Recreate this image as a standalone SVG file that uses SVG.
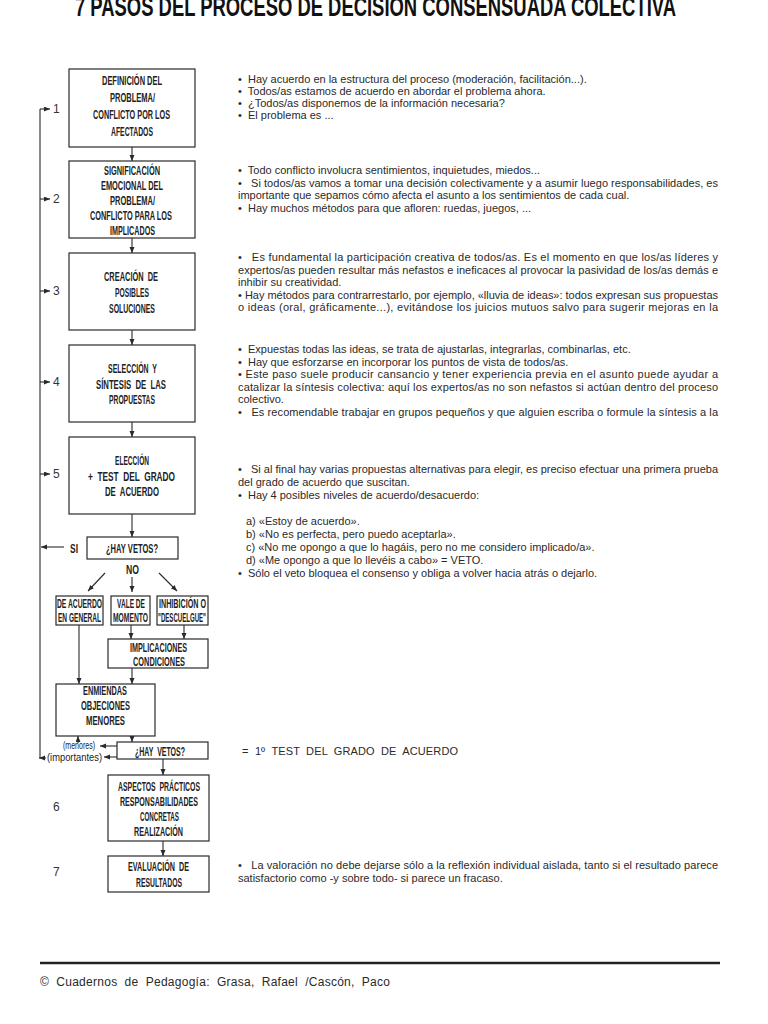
<svg xmlns="http://www.w3.org/2000/svg" width="768" height="1024" viewBox="0 0 768 1024">
<style>
.bx{fill:#fff;stroke:#2a2a2a;stroke-width:1.2}
.lb{font-family:"Liberation Sans Narrow","Liberation Sans",sans-serif;font-weight:700;font-size:13px;fill:#222;white-space:pre}
.sm{font-family:"Liberation Sans Narrow","Liberation Sans",sans-serif;font-size:11px;fill:#222}
.tx{font-family:"Liberation Sans",Arial,sans-serif;font-size:11px;fill:#2a2a2a;white-space:pre}
.num{font-family:"Liberation Sans",Arial,sans-serif;font-size:12px;fill:#333}
.ln{stroke:#2a2a2a;stroke-width:1.1;fill:none}
.ar{stroke:#2a2a2a;stroke-width:1.1;fill:none;marker-end:url(#ah)}
</style>
<defs>
<marker id="ah" markerUnits="userSpaceOnUse" markerWidth="7" markerHeight="6" refX="6" refY="2.5" orient="auto">
<path d="M0,0 L6,2.5 L0,5 z" fill="#2a2a2a"/>
</marker>
</defs>
<rect width="768" height="1024" fill="#fff"/>

<text x="75" y="16" textLength="601" lengthAdjust="spacingAndGlyphs" style="font-family:'Liberation Sans Narrow','Liberation Sans',sans-serif;font-weight:700;font-size:28px;fill:#111">7 PASOS DEL PROCESO DE DECISIÓN CONSENSUADA COLECTIVA</text>

<g id="connectors">
<line class="ar" x1="132" y1="147" x2="132" y2="161"/>
<line class="ar" x1="132" y1="238" x2="132" y2="253"/>
<line class="ar" x1="132" y1="330" x2="132" y2="345"/>
<line class="ar" x1="132" y1="422" x2="132" y2="437"/>
<line class="ar" x1="132" y1="514" x2="132" y2="537"/>
<line class="ar" x1="64" y1="547" x2="41" y2="547"/>
<line class="ar" x1="105" y1="573" x2="88" y2="591"/>
<line class="ar" x1="132" y1="577" x2="132" y2="592"/>
<line class="ar" x1="159" y1="573" x2="177" y2="591"/>
<line class="ar" x1="131" y1="625" x2="131" y2="639"/>
<line class="ar" x1="184" y1="625" x2="184" y2="639"/>
<line class="ar" x1="79" y1="625" x2="79" y2="684"/>
<line class="ar" x1="132" y1="668" x2="132" y2="684"/>
<line class="ar" x1="132" y1="736" x2="132" y2="742"/>
<line class="ar" x1="78" y1="743" x2="78" y2="736"/>
<line class="ar" x1="117" y1="746" x2="100" y2="746"/>
<line class="ar" x1="117" y1="757" x2="104" y2="757"/>
<line class="ar" x1="46" y1="758" x2="39" y2="758"/>
<line class="ln" x1="40" y1="758" x2="40" y2="109"/>
<line class="ar" x1="40" y1="109" x2="50" y2="109"/>
<line class="ar" x1="40" y1="199" x2="50" y2="199"/>
<line class="ar" x1="40" y1="291" x2="50" y2="291"/>
<line class="ar" x1="40" y1="382" x2="50" y2="382"/>
<line class="ar" x1="40" y1="474" x2="50" y2="474"/>
<line class="ar" x1="163" y1="759" x2="163" y2="775"/>
<line class="ar" x1="163" y1="841" x2="163" y2="856"/>
</g>

<g id="step-numbers">
<text class="num" x="53" y="113">1</text>
<text class="num" x="53" y="203">2</text>
<text class="num" x="53" y="295">3</text>
<text class="num" x="53" y="386">4</text>
<text class="num" x="53" y="478">5</text>
<text class="num" x="53" y="811">6</text>
<text class="num" x="53" y="876">7</text>
</g>

<g id="n1">
<rect class="bx" x="69" y="69" width="126" height="78"/>
<text class="lb" x="102" y="85" textLength="60" lengthAdjust="spacingAndGlyphs">DEFINICIÓN DEL</text>
<text class="lb" x="110" y="102" textLength="45" lengthAdjust="spacingAndGlyphs">PROBLEMA/</text>
<text class="lb" x="93" y="119" textLength="77" lengthAdjust="spacingAndGlyphs">CONFLICTO POR LOS</text>
<text class="lb" x="111" y="136" textLength="42" lengthAdjust="spacingAndGlyphs">AFECTADOS</text>
</g>
<g id="n2">
<rect class="bx" x="69" y="161" width="126" height="77"/>
<text class="lb" x="104" y="175" textLength="56" lengthAdjust="spacingAndGlyphs">SIGNIFICACIÓN</text>
<text class="lb" x="101" y="190" textLength="62" lengthAdjust="spacingAndGlyphs">EMOCIONAL DEL</text>
<text class="lb" x="110" y="205" textLength="45" lengthAdjust="spacingAndGlyphs">PROBLEMA/</text>
<text class="lb" x="90" y="220" textLength="82" lengthAdjust="spacingAndGlyphs">CONFLICTO PARA LOS</text>
<text class="lb" x="110" y="235" textLength="45" lengthAdjust="spacingAndGlyphs">IMPLICADOS</text>
</g>
<g id="n3">
<rect class="bx" x="69" y="253" width="126" height="77"/>
<text class="lb" x="104" y="281" textLength="54" lengthAdjust="spacingAndGlyphs">CREACIÓN  DE</text>
<text class="lb" x="115" y="297" textLength="34" lengthAdjust="spacingAndGlyphs">POSIBLES</text>
<text class="lb" x="109" y="313" textLength="46" lengthAdjust="spacingAndGlyphs">SOLUCIONES</text>
</g>
<g id="n4">
<rect class="bx" x="69" y="345" width="126" height="77"/>
<text class="lb" x="108" y="373" textLength="49" lengthAdjust="spacingAndGlyphs">SELECCIÓN  Y</text>
<text class="lb" x="96" y="389" textLength="70" lengthAdjust="spacingAndGlyphs">SÍNTESIS  DE  LAS</text>
<text class="lb" x="109" y="404" textLength="46" lengthAdjust="spacingAndGlyphs">PROPUESTAS</text>
</g>
<g id="n5">
<rect class="bx" x="69" y="437" width="126" height="77"/>
<text class="lb" x="115" y="465" textLength="34" lengthAdjust="spacingAndGlyphs">ELECCIÓN</text>
<text class="lb" x="88" y="481" textLength="87" lengthAdjust="spacingAndGlyphs">+  TEST  DEL  GRADO</text>
<text class="lb" x="105" y="496" textLength="54" lengthAdjust="spacingAndGlyphs">DE  ACUERDO</text>
</g>
<g id="veto1">
<rect class="bx" x="87" y="537" width="91" height="22"/>
<text class="lb" x="106" y="553" textLength="52" lengthAdjust="spacingAndGlyphs">¿HAY VETOS?</text>
</g>
<g id="label-si"><text class="lb" x="70" y="553" textLength="8" lengthAdjust="spacingAndGlyphs">SI</text></g>
<g id="label-no"><text class="lb" x="126" y="574" textLength="13" lengthAdjust="spacingAndGlyphs">NO</text></g>
<g id="n-acuerdo">
<rect class="bx" x="56" y="596" width="47" height="29"/>
<text class="lb" x="57" y="608" textLength="45" lengthAdjust="spacingAndGlyphs">DE ACUERDO</text>
<text class="lb" x="58" y="622" textLength="43" lengthAdjust="spacingAndGlyphs">EN GENERAL</text>
</g>
<g id="n-vale">
<rect class="bx" x="111" y="596" width="39" height="29"/>
<text class="lb" x="117" y="608" textLength="28" lengthAdjust="spacingAndGlyphs">VALE DE</text>
<text class="lb" x="113" y="622" textLength="35" lengthAdjust="spacingAndGlyphs">MOMENTO</text>
</g>
<g id="n-inhibicion">
<rect class="bx" x="157" y="596" width="51" height="29"/>
<text class="lb" x="159" y="608" textLength="47" lengthAdjust="spacingAndGlyphs">INHIBICIÓN O</text>
<text class="lb" x="158" y="622" textLength="48" lengthAdjust="spacingAndGlyphs">"DESCUELGUE"</text>
</g>
<g id="n-implicaciones">
<rect class="bx" x="108" y="639" width="100" height="29"/>
<text class="lb" x="130" y="652" textLength="57" lengthAdjust="spacingAndGlyphs">IMPLICACIONES</text>
<text class="lb" x="133" y="666" textLength="52" lengthAdjust="spacingAndGlyphs">CONDICIONES</text>
</g>
<g id="n-enmiendas">
<rect class="bx" x="56" y="684" width="99" height="52"/>
<text class="lb" x="83" y="695" textLength="44" lengthAdjust="spacingAndGlyphs">ENMIENDAS</text>
<text class="lb" x="81" y="710" textLength="49" lengthAdjust="spacingAndGlyphs">OBJECIONES</text>
<text class="lb" x="86" y="725" textLength="39" lengthAdjust="spacingAndGlyphs">MENORES</text>
</g>
<g id="veto2">
<rect class="bx" x="117" y="742" width="91" height="17"/>
<text class="lb" x="135" y="755.5" textLength="50" lengthAdjust="spacingAndGlyphs">¿HAY  VETOS?</text>
</g>
<g id="label-menores"><text class="sm" x="63" y="749" textLength="32" lengthAdjust="spacingAndGlyphs">(menores)</text></g>
<g id="label-importantes"><text class="sm" x="47" y="761" textLength="55" lengthAdjust="spacingAndGlyphs">(importantes)</text></g>
<g id="n6">
<rect class="bx" x="108" y="775" width="101" height="66"/>
<text class="lb" x="118" y="791" textLength="82" lengthAdjust="spacingAndGlyphs">ASPECTOS  PRÁCTICOS</text>
<text class="lb" x="120" y="806" textLength="78" lengthAdjust="spacingAndGlyphs">RESPONSABILIDADES</text>
<text class="lb" x="140" y="821" textLength="39" lengthAdjust="spacingAndGlyphs">CONCRETAS</text>
<text class="lb" x="134" y="836" textLength="49" lengthAdjust="spacingAndGlyphs">REALIZACIÓN</text>
</g>
<g id="n7">
<rect class="bx" x="108" y="856" width="101" height="36"/>
<text class="lb" x="128" y="871" textLength="61" lengthAdjust="spacingAndGlyphs">EVALUACIÓN  DE</text>
<text class="lb" x="136" y="887" textLength="46" lengthAdjust="spacingAndGlyphs">RESULTADOS</text>
</g>

<g id="notes-1">
<text class="tx" x="238" y="83">•  Hay acuerdo en la estructura del proceso (moderación, facilitación...).</text>
<text class="tx" x="238" y="95">•  Todos/as estamos de acuerdo en abordar el problema ahora.</text>
<text class="tx" x="238" y="107">•  ¿Todos/as disponemos de la información necesaria?</text>
<text class="tx" x="238" y="119">•  El problema es ...</text>
</g>
<g id="notes-2">
<text class="tx" x="238" y="174">•  Todo conflicto involucra sentimientos, inquietudes, miedos...</text>
<text class="tx" x="238" y="186.5" textLength="480" lengthAdjust="spacing">•   Si todos/as vamos a tomar una decisión colectivamente y a asumir luego responsabilidades, es</text>
<text class="tx" x="238" y="199">importante que sepamos cómo afecta el asunto a los sentimientos de cada cual.</text>
<text class="tx" x="238" y="211.5">•  Hay muchos métodos para que afloren: ruedas, juegos, ...</text>
</g>
<g id="notes-3">
<text class="tx" x="238" y="261" textLength="480" lengthAdjust="spacing">•   Es fundamental la participación creativa de todos/as. Es el momento en que los/as líderes y</text>
<text class="tx" x="238" y="273.5" textLength="480" lengthAdjust="spacing">expertos/as pueden resultar más nefastos e ineficaces al provocar la pasividad de los/as demás e</text>
<text class="tx" x="238" y="286">inhibir su creatividad.</text>
<text class="tx" x="238" y="298.5" textLength="480" lengthAdjust="spacing">• Hay métodos para contrarrestarlo, por ejemplo, «lluvia de ideas»: todos expresan sus propuestas</text>
<text class="tx" x="238" y="311" textLength="480" lengthAdjust="spacing">o ideas (oral, gráficamente...), evitándose los juicios mutuos salvo para sugerir mejoras en la</text>
</g>
<g id="notes-4">
<text class="tx" x="238" y="353">•  Expuestas todas las ideas, se trata de ajustarlas, integrarlas, combinarlas, etc.</text>
<text class="tx" x="238" y="365.5">•  Hay que esforzarse en incorporar los puntos de vista de todos/as.</text>
<text class="tx" x="238" y="378" textLength="480" lengthAdjust="spacing">• Este paso suele producir cansancio y tener experiencia previa en el asunto puede ayudar a</text>
<text class="tx" x="238" y="390.5" textLength="480" lengthAdjust="spacing">catalizar la síntesis colectiva: aquí los expertos/as no son nefastos si actúan dentro del proceso</text>
<text class="tx" x="238" y="403">colectivo.</text>
<text class="tx" x="238" y="415.5" textLength="480" lengthAdjust="spacing">•   Es recomendable trabajar en grupos pequeños y que alguien escriba o formule la síntesis a la</text>
</g>
<g id="notes-5">
<text class="tx" x="238" y="473" textLength="480" lengthAdjust="spacing">•   Si al final hay varias propuestas alternativas para elegir, es preciso efectuar una primera prueba</text>
<text class="tx" x="238" y="486">del grado de acuerdo que suscitan.</text>
<text class="tx" x="238" y="499">•  Hay 4 posibles niveles de acuerdo/desacuerdo:</text>
<text class="tx" x="246" y="525">a) «Estoy de acuerdo».</text>
<text class="tx" x="246" y="538">b) «No es perfecta, pero puedo aceptarla».</text>
<text class="tx" x="246" y="551">c) «No me opongo a que lo hagáis, pero no me considero implicado/a».</text>
<text class="tx" x="246" y="564">d) «Me opongo a que lo llevéis a cabo» = VETO.</text>
<text class="tx" x="238" y="577">•  Sólo el veto bloquea el consenso y obliga a volver hacia atrás o dejarlo.</text>
</g>
<g id="note-test">
<text class="tx" x="242" y="755" textLength="216" lengthAdjust="spacing">=  1º  TEST  DEL  GRADO  DE  ACUERDO</text>
</g>
<g id="notes-7">
<text class="tx" x="238" y="869" textLength="480" lengthAdjust="spacing">•   La valoración no debe dejarse sólo a la reflexión individual aislada, tanto si el resultado parece</text>
<text class="tx" x="238" y="882">satisfactorio como -y sobre todo- si parece un fracaso.</text>
</g>

<g id="footer">
<line x1="40" y1="963" x2="720" y2="963" stroke="#222" stroke-width="2.5"/>
<text class="tx" x="40" y="986" textLength="350" lengthAdjust="spacing" style="font-size:12px">©  Cuadernos  de  Pedagogía:  Grasa,  Rafael  /Cascón,  Paco</text>
</g>
</svg>
